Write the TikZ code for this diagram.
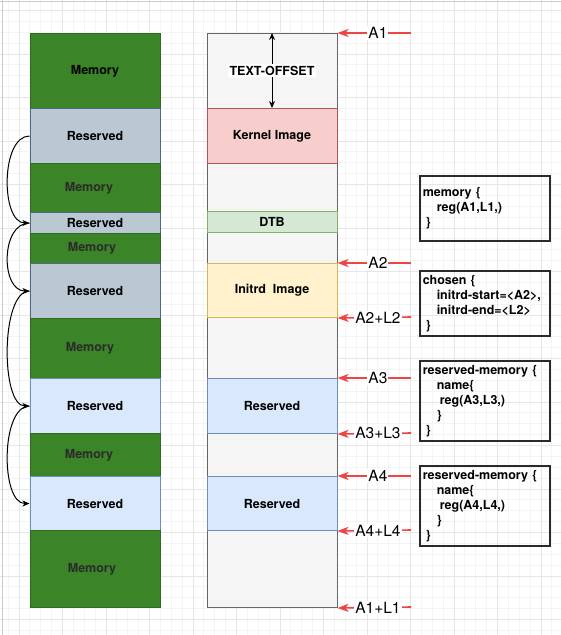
\documentclass[tikz,border=0pt]{standalone}
\usepackage{fontspec}
\setmainfont{TeX Gyre Heros}
\usetikzlibrary{arrows.meta}
\definecolor{memgreen}{HTML}{3B8427}
\definecolor{memborder}{HTML}{2E6B22}
\definecolor{memtext}{HTML}{2B2B2B}
\definecolor{resgray}{HTML}{BAC8D3}
\definecolor{resborder}{HTML}{4D6A82}
\definecolor{resblue}{HTML}{DAE8FC}
\definecolor{blueborder}{HTML}{6C8EBF}
\definecolor{greyfill}{HTML}{F5F5F5}
\definecolor{greyborder}{HTML}{666666}
\definecolor{kernfill}{HTML}{F8CECC}
\definecolor{kernborder}{HTML}{B85450}
\definecolor{dtbfill}{HTML}{D5E8D4}
\definecolor{dtbborder}{HTML}{82B366}
\definecolor{initfill}{HTML}{FFF2CC}
\definecolor{initborder}{HTML}{D6B656}
\definecolor{arrred}{HTML}{EE4444}
\definecolor{boxborder}{HTML}{2A2A2A}
\definecolor{gridminor}{HTML}{F4F4F4}
\definecolor{gridmajor}{HTML}{E6E6E6}
\tikzset{
cell/.style={draw,line width=1pt,anchor=north,minimum width=130pt,inner sep=0pt,
  font=\bfseries\fontsize{12.5}{15}\selectfont},
memcell/.style={cell,fill=memgreen,draw=memborder,text=memtext},
rescell/.style={cell,fill=resgray,draw=resborder},
bluecell/.style={cell,fill=resblue,draw=blueborder},
greycell/.style={cell,fill=greyfill,draw=greyborder},
kerncell/.style={cell,fill=kernfill,draw=kernborder},
dtbcell/.style={cell,fill=dtbfill,draw=dtbborder},
initcell/.style={cell,fill=initfill,draw=initborder},
dtbox/.style={draw=boxborder,line width=1.5pt,anchor=north west,text width=124pt,
  inner xsep=3pt,inner ysep=2pt,align=left,font=\bfseries\fontsize{12.5}{15}\selectfont},
redarr/.style={draw=arrred,line width=1.6pt,-{Stealth[length=11pt,width=8pt,inset=3pt]}},
addr/.style={pos=0.45,fill=white,inner sep=1pt,text=black,font=\fontsize{15.5}{18}\selectfont},
dblarr/.style={line width=1pt,{Stealth[length=7pt,width=6pt]}-{Stealth[length=7pt,width=6pt]}},
offlbl/.style={fill=white,inner sep=1.5pt,font=\bfseries\fontsize{12.5}{15}\selectfont},
linkarr/.style={line width=1pt,-{Stealth[length=7pt,width=6pt,inset=2pt]}}
}
\begin{document}
\begin{tikzpicture}[x=1pt,y=-1pt]
\useasboundingbox (0,0) rectangle (561,635);
\fill[white] (0,0) rectangle (561,635);
\foreach \k in {-1,...,49} \draw[gridminor,line width=0.8pt] ({19+\k*10.875},0) -- ++(0,635);
\foreach \k in {0,...,57} \draw[gridminor,line width=0.8pt] (0,{10.5+\k*10.875}) -- ++(561,0);
\foreach \k in {0,...,12} \draw[gridmajor,line width=0.8pt] ({19+\k*43.5},0) -- ++(0,635);
\foreach \k in {0,...,14} \draw[gridmajor,line width=0.8pt] (0,{10.5+\k*43.5}) -- ++(561,0);
\draw[gray!40,line width=1pt] (2,0) -- (2,635) (0,1) -- (561,1);

\node[memcell,text=black,minimum height=75pt] (m1) at (95,33) {Memory};
\node[rescell,minimum height=55pt] (r1) at (95,108) {Reserved};
\node[memcell,minimum height=49pt] (m2) at (95,163) {\hspace*{-12pt}Memory};
\node[rescell,minimum height=21pt] (r2) at (95,212) {Reserved};
\node[memcell,minimum height=30pt] (m3) at (95,233) {\hspace*{-6pt}Memory};
\node[rescell,minimum height=55pt] (r3) at (95,263) {Reserved};
\node[memcell,minimum height=60pt] (m4) at (95,318) {\hspace*{-10pt}Memory};
\node[bluecell,minimum height=55pt] (r4) at (95,378) {Reserved};
\node[memcell,minimum height=43pt] (m5) at (95,433) {\hspace*{-12pt}Memory};
\node[bluecell,minimum height=54pt] (r5) at (95,476) {Reserved};
\node[memcell,minimum height=77pt] (m6) at (95,530) {\hspace*{-6pt}Memory};

\draw[linkarr] (r1.west) .. controls +(-29,0) and +(-29,0) .. (r2.west);
\draw[linkarr] (r2.west) .. controls +(-29,0) and +(-29,0) .. (r3.west);
\draw[linkarr] (r3.west) .. controls +(-29,0) and +(-29,0) .. (r4.west);
\draw[linkarr] (r4.west) .. controls +(-29,0) and +(-29,0) .. (r5.west);

\node[greycell,minimum height=574pt] (col) at (272,33) {};
\node[kerncell,minimum height=55pt] (kern) at (272,108) {Kernel Image};
\node[dtbcell,minimum height=21pt] (dtb) at (272,211) {DTB};
\node[initcell,minimum height=54pt] (init) at (272,263) {Initrd~ Image};
\node[bluecell,minimum height=55pt] (rv1) at (272,378) {Reserved};
\node[bluecell,minimum height=54pt] (rv2) at (272,476) {Reserved};

\draw[dblarr] (col.north) -- node[offlbl] (off) {TEXT-OFFSET} (kern.north);

\coordinate (e1) at (411,33);
\coordinate (e2) at (411,263);
\coordinate (e3) at (411,317);
\coordinate (e4) at (411,378);
\coordinate (e5) at (411,433);
\coordinate (e6) at (411,476);
\coordinate (e7) at (411,530);
\coordinate (e8) at (411,607);
\draw[redarr] (e1) -- node[addr]{A1} (col.north east);
\draw[redarr] (e2) -- node[addr]{A2} (init.north east);
\draw[redarr] (e3) -- node[addr]{A2+L2} (init.south east);
\draw[redarr] (e4) -- node[addr]{A3} (rv1.north east);
\draw[redarr] (e5) -- node[addr]{A3+L3} (rv1.south east);
\draw[redarr] (e6) -- node[addr]{A4} (rv2.north east);
\draw[redarr] (e7) -- node[addr]{A4+L4} (rv2.south east);
\draw[redarr] (e8) -- node[addr]{A1+L1} (col.south east);

\node[dtbox,minimum height=65pt] (dmem) at (419,175)
  {memory \{\\\hspace*{14pt}reg(A1,L1,)\\\hspace*{3pt}\}};
\node[dtbox,minimum height=65pt] (dchosen) at (419,270)
  {chosen \{\\\hspace*{14pt}initrd-start=<A2>,\\\hspace*{14pt}initrd-end=<L2>\\\hspace*{3pt}\}};
\node[dtbox,minimum height=80pt] (dres1) at (419,360)
  {reserved-memory \{\\\hspace*{14pt}name\{\\\hspace*{17pt}reg(A3,L3,)\\\hspace*{14pt}\}\\\hspace*{3pt}\}};
\node[dtbox,minimum height=80pt] (dres2) at (419,465)
  {reserved-memory \{\\\hspace*{14pt}name\{\\\hspace*{17pt}reg(A4,L4,)\\\hspace*{14pt}\}\\\hspace*{3pt}\}};
\end{tikzpicture}
\end{document}
